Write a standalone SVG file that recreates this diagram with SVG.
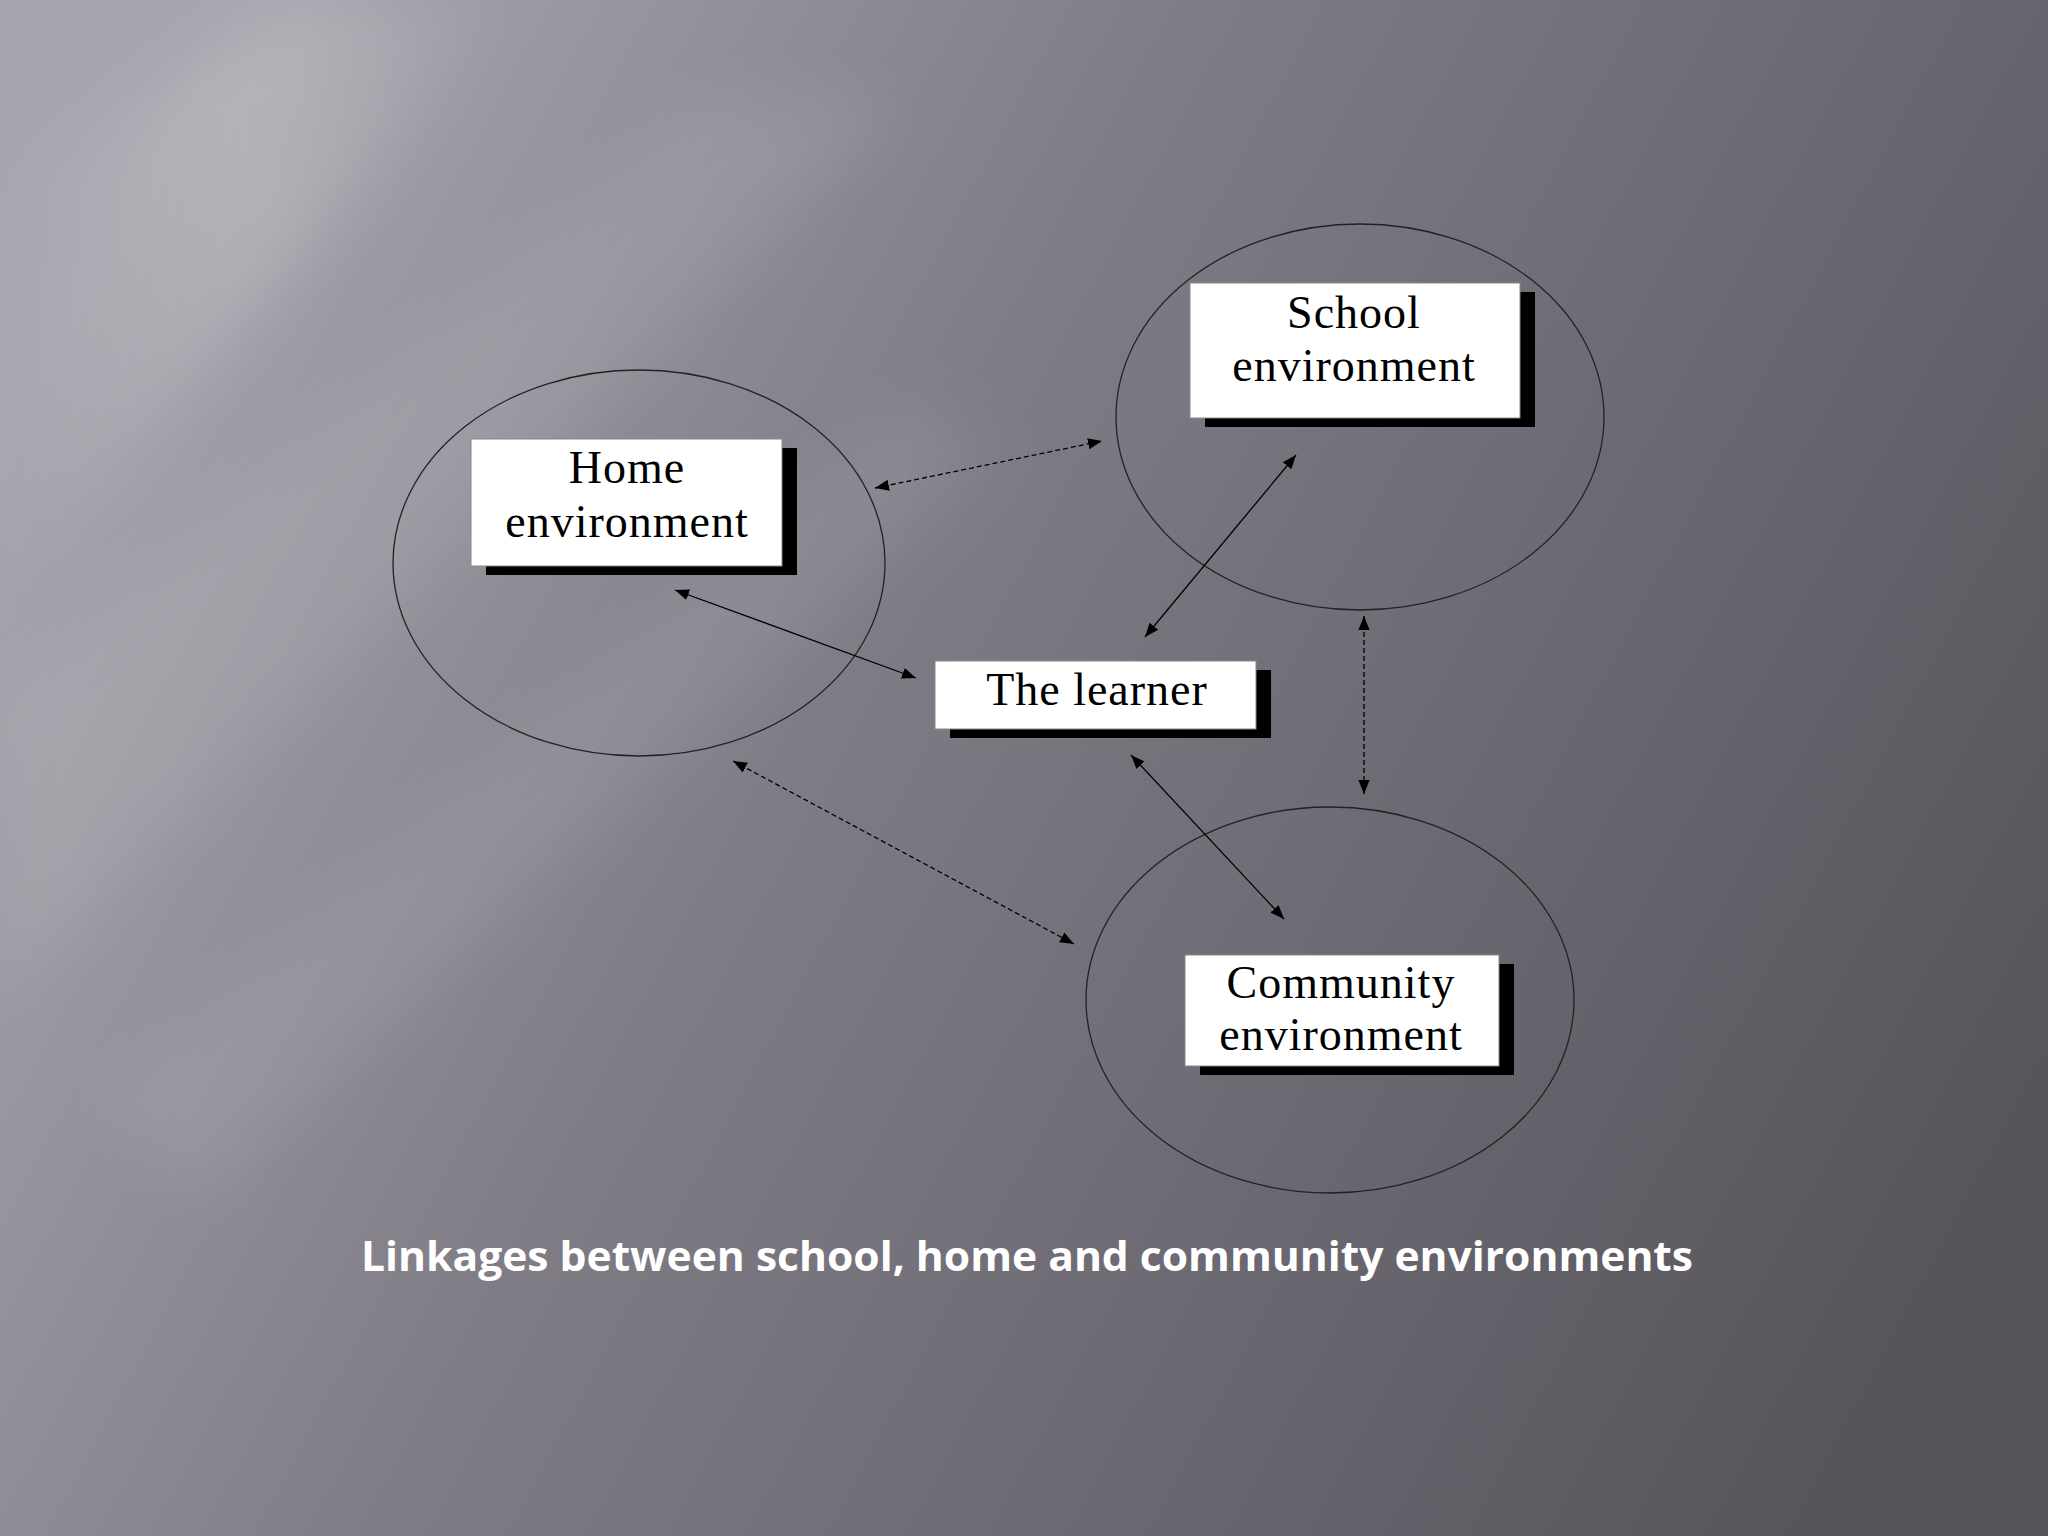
<svg xmlns="http://www.w3.org/2000/svg" width="2048" height="1536" viewBox="0 0 2048 1536">
<defs>
<linearGradient id="bg" x1="0" y1="0.3" x2="1" y2="0.7">
<stop offset="0" stop-color="#a8a5ae"/>
<stop offset="0.4" stop-color="#807c86"/>
<stop offset="1" stop-color="#57545c"/>
</linearGradient>
<linearGradient id="streak" x1="0" y1="0" x2="1" y2="0">
<stop offset="0" stop-color="#fff" stop-opacity="0"/>
<stop offset="0.5" stop-color="#fff" stop-opacity="0.18"/>
<stop offset="1" stop-color="#fff" stop-opacity="0"/>
</linearGradient>
<filter id="blur"><feGaussianBlur stdDeviation="30"/></filter>
<marker id="ah" viewBox="0 0 10 10" refX="10" refY="5" markerWidth="14" markerHeight="14" markerUnits="userSpaceOnUse" orient="auto-start-reverse"><path d="M0,1 L10,5 L0,9 z" fill="#000"/></marker>
<style>
.ell{fill:none;stroke:#222;stroke-width:1.3}
.box{fill:#fff;stroke:#888;stroke-width:1}
.sh{fill:#000}
.t{font-family:"Liberation Serif",serif;font-size:46px;fill:#000;text-anchor:middle;letter-spacing:1px}
.c{stroke:#000;stroke-width:1.3;fill:none;marker-start:url(#ah);marker-end:url(#ah)}
.d{stroke-dasharray:5,3}
</style>
</defs>
<rect width="2048" height="1536" fill="url(#bg)"/>
<g filter="url(#blur)">
<polygon points="0,200 300,0 520,0 0,600" fill="url(#streak)"/>
<polygon points="0,700 700,100 900,100 0,1000" fill="#fff" opacity="0.08"/>
<polygon points="100,1100 900,400 1000,450 200,1200" fill="#fff" opacity="0.07"/>
</g>
<g id="home"><ellipse class="ell" cx="639" cy="563" rx="246" ry="193"/>
<rect class="sh" x="486" y="448" width="311" height="127"/><rect class="box" x="471" y="439" width="311" height="127"/>
<text class="t" x="627" y="483">Home</text><text class="t" x="627" y="537">environment</text></g>
<g id="school"><ellipse class="ell" cx="1360" cy="417" rx="244" ry="193"/>
<rect class="sh" x="1205" y="292" width="330" height="135"/><rect class="box" x="1190" y="283" width="330" height="135"/>
<text class="t" x="1354" y="328">School</text><text class="t" x="1354" y="381">environment</text></g>
<g id="community"><ellipse class="ell" cx="1330" cy="1000" rx="244" ry="193"/>
<rect class="sh" x="1200" y="964" width="314" height="111"/><rect class="box" x="1185" y="955" width="314" height="111"/>
<text class="t" x="1341" y="998">Community</text><text class="t" x="1341" y="1050">environment</text></g>
<g id="learner">
<rect class="sh" x="950" y="670" width="321" height="68"/><rect class="box" x="935" y="661" width="321" height="68"/>
<text class="t" x="1097" y="705">The learner</text></g>
<g id="connectors">
<line class="c d" x1="875" y1="488" x2="1102" y2="441"/>
<line class="c" x1="1296" y1="455" x2="1145" y2="637"/>
<line class="c" x1="675" y1="590" x2="916" y2="678"/>
<line class="c d" x1="1364" y1="616" x2="1364" y2="794"/>
<line class="c" x1="1131" y1="755" x2="1284" y2="919"/>
<line class="c d" x1="733" y1="761" x2="1074" y2="944"/>
</g>
<text x="1027" y="1271" text-anchor="middle" font-family="'Open Sans','Liberation Sans',sans-serif" font-weight="bold" font-size="42" fill="#fff" textLength="1332" lengthAdjust="spacingAndGlyphs">Linkages between school, home and community environments</text>
</svg>
